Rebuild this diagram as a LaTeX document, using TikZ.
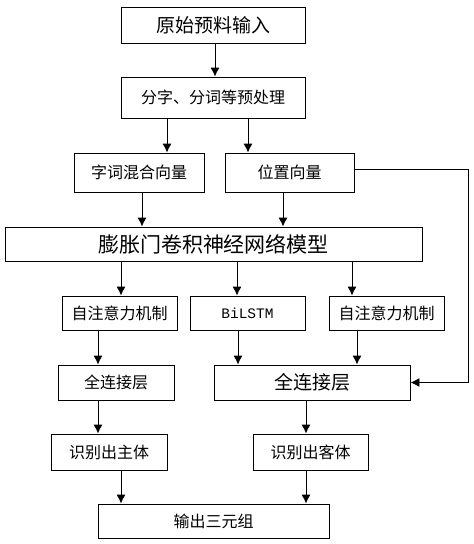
\documentclass[tikz,border=0pt]{standalone}
\usepackage{fontspec}
\setmainfont{Noto Sans CJK SC}
\newfontfamily\latinmono{Liberation Mono}
\usetikzlibrary{arrows.meta}

\begin{document}
\begin{tikzpicture}[x=1pt, y=-1pt]
        \tikzstyle{box}=[draw,rectangle,line width=0.9pt,inner sep=0pt,font=\fontsize{16}{16}\selectfont]
        \tikzstyle{arr}=[line width=0.9pt,-{Latex[length=9pt,width=9pt]}]

        \useasboundingbox (0,0) rectangle (474,544);

        \node[box,minimum width=184pt,minimum height=36pt,font=\fontsize{19}{19}\selectfont] (B_1) at (213,25) {原始预料输入};
        \node[box,minimum width=184pt,minimum height=41pt] (B_2) at (213,97.5) {分字、分词等预处理};
        \node[box,minimum width=130pt,minimum height=39pt] (B_3) at (139,172.5) {字词混合向量};
        \node[box,minimum width=129pt,minimum height=39pt] (B_4) at (289.5,172.5) {位置向量};
        \node[box,minimum width=417pt,minimum height=34pt,font=\fontsize{21}{21}\selectfont] (B_5) at (213.5,244) {膨胀门卷积神经网络模型};
        \node[box,minimum width=115pt,minimum height=34pt] (B_6) at (119.5,313) {自注意力机制};
        \node[box,minimum width=115pt,minimum height=34pt,font=\latinmono\fontsize{14.5}{15}\selectfont] (B_7) at (247.5,313) {BiLSTM};
        \node[box,minimum width=115pt,minimum height=34pt] (B_8) at (386.5,313) {自注意力机制};
        \node[box,minimum width=116pt,minimum height=35pt] (B_9) at (116,382.5) {全连接层};
        \node[box,minimum width=196pt,minimum height=35pt,font=\fontsize{19}{19}\selectfont] (B_10) at (312,382.5) {全连接层};
        \node[box,minimum width=116pt,minimum height=36pt] (B_11) at (109,452) {识别出主体};
        \node[box,minimum width=115pt,minimum height=36pt] (B_12) at (310.5,452) {识别出客体};
        \node[box,minimum width=231pt,minimum height=34pt] (B_13) at (213.5,521) {输出三元组};
        \coordinate (R) at (468,0);
        \coordinate (P) at ([yshift=3.5pt]B_4.east);

        \draw[arr] ([xshift=2pt]B_1.south) -- ([xshift=2pt]B_1.south |- B_2.north);
        \draw[arr] ([xshift=-46pt]B_2.south) -- ([xshift=-46pt]B_2.south |- B_3.north);
        \draw[arr] ([xshift=35pt]B_2.south) -- ([xshift=35pt]B_2.south |- B_4.north);
        \draw[arr] ([xshift=3pt]B_3.south) -- ([xshift=3pt]B_3.south |- B_5.north);
        \draw[arr] ([xshift=-6.5pt]B_4.south) -- ([xshift=-6.5pt]B_4.south |- B_5.north);
        \draw[arr] ([xshift=-92.5pt]B_5.south) -- ([xshift=-92.5pt]B_5.south |- B_6.north);
        \draw[arr] ([xshift=23.5pt]B_5.south) -- ([xshift=23.5pt]B_5.south |- B_7.north);
        \draw[arr] ([xshift=138.5pt]B_5.south) -- ([xshift=138.5pt]B_5.south |- B_8.north);
        \draw[arr] ([xshift=-21.5pt]B_6.south) -- ([xshift=-21.5pt]B_6.south |- B_9.north);
        \draw[arr] ([xshift=-9.5pt]B_7.south) -- ([xshift=-9.5pt]B_7.south |- B_10.north);
        \draw[arr] ([xshift=-29.5pt]B_8.south) -- ([xshift=-29.5pt]B_8.south |- B_10.north);
        \draw[arr] ([xshift=-18pt]B_9.south) -- ([xshift=-18pt]B_9.south |- B_11.north);
        \draw[arr] ([xshift=-6pt]B_10.south) -- ([xshift=-6pt]B_10.south |- B_12.north);
        \draw[arr] ([xshift=12pt]B_11.south) -- ([xshift=12pt]B_11.south |- B_13.north);
        \draw[arr] ([xshift=-4.5pt]B_12.south) -- ([xshift=-4.5pt]B_12.south |- B_13.north);
        \draw[arr] (P) -- (R |- P) -- (R |- B_10.east) -- (B_10.east);
    \end{tikzpicture}
\end{document}
